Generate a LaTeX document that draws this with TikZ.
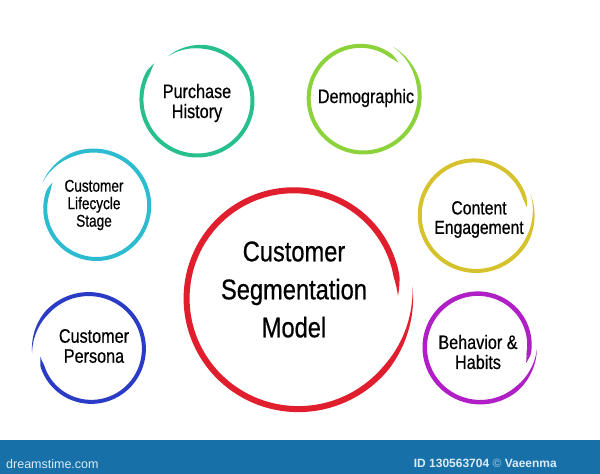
\documentclass[tikz,border=0pt]{standalone}
\usepackage{fontspec}
\setmainfont{Liberation Sans}
\newfontfamily\heavyfont[FakeBold=0.6]{Liberation Sans}
\definecolor{cred}{HTML}{E01E2E}
\definecolor{cteal}{HTML}{27C08C}
\definecolor{clime}{HTML}{8CD23A}
\definecolor{ccyan}{HTML}{2DBCCF}
\definecolor{cyell}{HTML}{D6C22C}
\definecolor{cpurp}{HTML}{B01EC6}
\definecolor{cblue}{HTML}{2A3CC6}
\definecolor{cbar}{HTML}{1771A8}
\definecolor{cbartext}{HTML}{DCEAF6}
% #1 cx, #2 cy, #3 radius, #4 start angle, #5 sweep, #6 radius change, #7 width, #8 colour
\newcommand\brushring[8]{%
  \fill[#8] plot[domain=0:1,samples=180,variable=\t]
    ({#1+(#3+(#6)*\t+0.5*#7*min(1,\t/0.12,(1-\t)/0.03))*cos(#4+(#5)*\t)},
     {#2+(#3+(#6)*\t+0.5*#7*min(1,\t/0.12,(1-\t)/0.03))*sin(#4+(#5)*\t)})
  -- plot[domain=1:0,samples=180,variable=\t]
    ({#1+(#3+(#6)*\t-0.5*#7*min(1,\t/0.12,(1-\t)/0.03))*cos(#4+(#5)*\t)},
     {#2+(#3+(#6)*\t-0.5*#7*min(1,\t/0.12,(1-\t)/0.03))*sin(#4+(#5)*\t)})
  -- cycle;}
\begin{document}
\begin{tikzpicture}[x=1pt,y=1pt,
  lbl/.style={font=\heavyfont\fontsize{19.5}{20}\selectfont, align=center, inner sep=0pt, xscale=0.83},
  bigl/.style={font=\heavyfont\fontsize{28.5}{38}\selectfont, align=center, inner sep=0pt, xscale=0.83},
  smalll/.style={font=\heavyfont\fontsize{17}{17.5}\selectfont, align=center, inner sep=0pt, xscale=0.8},
  bartext/.style={text=cbartext, inner sep=0pt}]
\useasboundingbox (0,0) rectangle (600,474);
\fill[white] (0,0) rectangle (600,474);

% rings
\brushring{296}{178}{117}{5}{-365}{-15}{6}{cred}
\brushring{198}{374}{53}{125}{-345}{4}{4}{cteal}
\brushring{362}{377}{59}{58}{-375}{-9}{4}{clime}
\brushring{95}{267}{58}{155}{-365}{-9}{4}{ccyan}
\brushring{475}{260}{59}{20}{-373}{-7}{4}{cyell}
\brushring{479}{128}{58}{-3}{-377}{-8}{4.5}{cpurp}
\brushring{90}{124}{58}{183}{-355}{-8}{4}{cblue}

% labels
\node[bigl] (cs) at (294,184.5) {Customer\\Segmentation\\Model};
\node[lbl] (ph) at (197,371) {Purchase\\History};
\node[lbl] (dm) at (366,376) {Demographic};
\node[smalll] (lc) at (94,269) {Customer\\Lifecycle\\Stage};
\node[lbl, font=\heavyfont\fontsize{19}{19.5}\selectfont] (ce) at (479,254.5) {Content\\Engagement};
\node[lbl] (bh) at (478,122) {Behavior \&\\Habits};
\node[lbl] (cp) at (94,128) {Customer\\Persona};

% bottom bar
\fill[cbar] (0,0) rectangle (600,34);
\node[bartext, anchor=west, font=\fontsize{12.5}{13}\selectfont] (ds) at (6,10) {dreamstime.com};
\node[bartext, anchor=east, font=\fontsize{12}{13}\selectfont\bfseries] (id) at (557,10.5) {ID 130563704 \textcolor{cbartext!60!cbar}{©} Vaeenma};
\end{tikzpicture}
\end{document}
